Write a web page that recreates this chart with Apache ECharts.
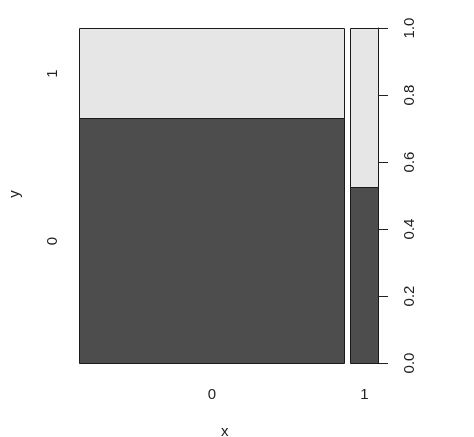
<!DOCTYPE html>
<html>
<head>
<meta charset="utf-8">
<script src="https://cdn.jsdelivr.net/npm/echarts@6/dist/echarts.min.js"></script>
<style>
  html, body { margin: 0; padding: 0; background: #fff; }
  #main { width: 474px; height: 437px; }
</style>
</head>
<body>
<div id="main"></div>
<script>
// spineplot of y against x
var xLevels = ['0', '1'];
var yLevels = ['0', '1'];
var counts = [182, 19];          // number of cases per x level (bar widths)
var shareY0 = [0.731, 0.526];    // proportion of y = 0 within each x level
var yTicks = [0, 0.2, 0.4, 0.6, 0.8, 1.0];
var gap = 0.02;

var FONT = '15px "Liberation Sans", Arial, sans-serif';
var INK = '#222';
var total = counts.reduce(function (a, b) { return a + b; }, 0);

var spineData = [];
var acc = 0;
for (var i = 0; i < xLevels.length; i++) {
	var x0 = acc + i * gap;
	var x1 = x0 + counts[i] / total;
	spineData.push([x0, x1, shareY0[i], i]);
	acc += counts[i] / total;
}

function renderSpine(params, api) {
	var x0 = api.value(0), x1 = api.value(1), p = api.value(2), idx = api.value(3);
	var bl = api.coord([x0, 0]);
	var br = api.coord([x1, 0]);
	var mid = api.coord([x0, p]);
	var tp = api.coord([x1, 1]);
	var left = Math.round(bl[0]) + 0.5, right = Math.round(br[0]) + 0.5;
	var bottom = Math.round(bl[1]) + 0.5, m = Math.round(mid[1]) + 0.5, top = Math.round(tp[1]) + 0.5;
	var kids = [{
		type: 'rect',
		shape: { x: left, y: m, width: right - left, height: bottom - m },
		style: { fill: '#4d4d4d', stroke: '#1a1a1a', lineWidth: 1 }
	}, {
		type: 'rect',
		shape: { x: left, y: top, width: right - left, height: m - top },
		style: { fill: '#e6e6e6', stroke: '#1a1a1a', lineWidth: 1 }
	}, {
		type: 'text',
		x: (left + right) / 2,
		y: bottom + 31,
		style: { text: xLevels[idx], font: FONT, fill: INK, align: 'center', verticalAlign: 'middle' }
	}];
	if (idx === 0) {
		kids.push({
			type: 'text', x: left - 27, y: (bottom + m) / 2, rotation: Math.PI / 2,
			style: { text: yLevels[0], font: FONT, fill: INK, align: 'center', verticalAlign: 'middle' }
		});
		kids.push({
			type: 'text', x: left - 27, y: (m + top) / 2, rotation: Math.PI / 2,
			style: { text: yLevels[1], font: FONT, fill: INK, align: 'center', verticalAlign: 'middle' }
		});
	}
	return { type: 'group', children: kids };
}

var chart = echarts.init(document.getElementById('main'), null, { renderer: 'canvas' });
var option = {
	animation: false,
	backgroundColor: '#fff',
	grid: { left: 79, right: 96, top: 28, bottom: 74 },
	xAxis: {
		type: 'value', min: 0, max: 1 + gap * (xLevels.length - 1), show: false
	},
	yAxis: {
		type: 'value', position: 'right', min: 0, max: 1, interval: 0.2,
		splitLine: { show: false },
		axisLine: { show: true, onZero: false, lineStyle: { color: INK, width: 1 } },
		axisTick: { show: true, inside: false, length: 10, lineStyle: { color: INK, width: 1 } },
		axisLabel: {
			rotate: 90, margin: 24, color: INK, fontSize: 15,
			fontFamily: '"Liberation Sans", Arial, sans-serif',
			formatter: function (v) { return v.toFixed(1); }
		}
	},
	graphic: [{
		type: 'text', left: 221, top: 424,
		style: { text: 'x', font: FONT, fill: INK }
	}, {
		type: 'text', x: 15, y: 194, rotation: Math.PI / 2,
		style: { text: 'y', font: FONT, fill: INK, align: 'center', verticalAlign: 'middle' }
	}],
	series: [{
		type: 'custom',
		renderItem: renderSpine,
		encode: { x: [0, 1], y: 2 },
		data: spineData
	}]
};
chart.setOption(option);
</script>
</body>
</html>
